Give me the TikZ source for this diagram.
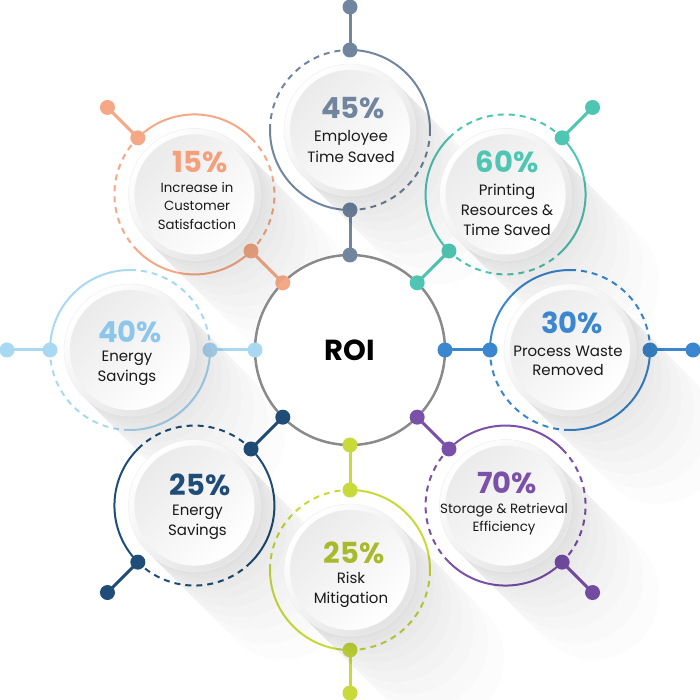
\documentclass[tikz,border=0pt]{standalone}
\usepackage{fontspec}
\setmainfont{Poppins}
\usetikzlibrary{calc}
\definecolor{c45}{HTML}{71869E}
\definecolor{c60}{HTML}{4FC6B3}
\definecolor{c30}{HTML}{3A87CF}
\definecolor{c70}{HTML}{7B50A9}
\definecolor{c25r}{HTML}{C8DA3A}
\definecolor{t25r}{HTML}{A8BA2C}
\definecolor{c25e}{HTML}{1F4D77}
\definecolor{c40}{HTML}{A9D8F2}
\definecolor{t40}{HTML}{8CC6EA}
\definecolor{c15}{HTML}{F5A886}
\definecolor{t15}{HTML}{F5A07A}
\definecolor{ringgray}{HTML}{8A8A8A}
\definecolor{txt}{HTML}{1A1A1A}
\tikzset{
  pct/.style={font=\fontsize{29}{30}\selectfont\bfseries, inner sep=0},
  lbl/.style={font=\fontsize{15}{20}\selectfont, align=center, text=txt, inner sep=0},
  dashring/.style={dash pattern=on 6pt off 5pt},
}
\newcommand\drawring[3]{%
  \coordinate (#1-c) at (#2:220);
  \coordinate (#1-a) at (#2:95);
  \coordinate (#1-b) at (#2:140);
  \coordinate (#1-o) at (#2:300);
  \coordinate (#1-e) at (#2:343);
  \begin{scope}[shift={(#1-c)}, draw=#3, line width=2]
    \draw ({#2}:80) arc[start angle=#2, end angle=#2-90, radius=80];
    \draw[dashring] ({#2-90}:80) arc[start angle=#2-90, end angle=#2-180, radius=80];
    \draw ({#2-180}:80) arc[start angle=#2-180, end angle=#2-270, radius=80];
    \draw[dashring] ({#2-270}:80) arc[start angle=#2-270, end angle=#2-360, radius=80];
  \end{scope}
  \draw[#3, line width=3] (#1-a) -- (#1-b) (#1-o) -- (#1-e);
  \foreach \p in {a,b,o,e} \fill[#3] (#1-\p) circle[radius=7.5];
}
\newcommand\drawdisc[1]{%
  \shade[top color=white, bottom color=gray!22, shading angle=45] (#1-c) circle[radius=66];
  \shade[top color=gray!16, bottom color=white, shading angle=45] (#1-c) circle[radius=60];
  \node[circle, minimum size=132, inner sep=0, draw=gray!12, line width=0.4] (#1) at (#1-c) {};
}
\begin{document}
\begin{tikzpicture}[x=1pt,y=1pt]
\useasboundingbox (-350,-350) rectangle (350,350);
% centre
\node[circle, draw=ringgray, line width=2.5, fill=white, minimum size=190, inner sep=0,
      font=\fontsize{29}{30}\selectfont\bfseries] (roi) at (0,0) {ROI};
% rings, connectors, dots
\drawring{s45}{90}{c45}
\drawring{s60}{45}{c60}
\drawring{s30}{0}{c30}
\drawring{s70}{-45}{c70}
\drawring{s25r}{-90}{c25r}
\drawring{s25e}{-135}{c25e}
\drawring{s40}{180}{c40}
\drawring{s15}{135}{c15}
% long soft shadows (kept off the centre disc)
\begin{scope}[even odd rule]
  \clip (-360,-360) rectangle (360,360) (0,0) circle[radius=97];
  \foreach \a in {90,45,0,-45,-90,-135,180,135}{
    \foreach \d in {3,7,12,18,26,35,46,58,72,88}{
      \fill[black, opacity=0.012, shift={(\a:220)}] (45:66) arc[start angle=45, end angle=225, radius=66]
        -- ++(\d,-\d) arc[start angle=225, end angle=405, radius=66] -- cycle;
    }
  }
\end{scope}
% discs
\foreach \s in {s45,s60,s30,s70,s25r,s25e,s40,s15} {\drawdisc{\s}}
% texts in pixel coordinates
\begin{scope}[x=1pt, y=-1pt, shift={(-350,-350)}]
  \node[pct, text=c45] (p45) at (353,108) {45\%};
  \node[lbl, font=\fontsize{15}{21}\selectfont] (l45) at (351,146.5) {Employee\\Time Saved};
  \node[pct, text=c60] (p60) at (507,162) {60\%};
  \node[lbl] (l60) at (507,210) {Printing\\Resources \&\\Time Saved};
  \node[pct, text=c30] (p30) at (572,323) {30\%};
  \node[lbl, font=\fontsize{15}{18.5}\selectfont] (l30) at (568,361) {Process Waste\\Removed};
  \node[pct, text=c70] (p70) at (507,483) {70\%};
  \node[lbl, font=\fontsize{13.4}{18}\selectfont] (l70) at (504,519) {Storage \& Retrieval\\Efficiency};
  \node[pct, text=t25r] (p25r) at (354,553) {25\%};
  \node[lbl] (l25r) at (351,590) {Risk\\Mitigation};
  \node[pct, text=c25e] (p25e) at (200,485) {25\%};
  \node[lbl] (l25e) at (197.5,522) {Energy\\Savings};
  \node[pct, text=t40] (p40) at (130,332) {40\%};
  \node[lbl] (l40) at (127,368) {Energy\\Savings};
  \node[pct, text=t15] (p15) at (200,162) {15\%};
  \node[lbl, font=\fontsize{13.3}{18.5}\selectfont] (l15) at (197,206) {Increase in\\Customer\\Satisfaction};
\end{scope}
\end{tikzpicture}
\end{document}
